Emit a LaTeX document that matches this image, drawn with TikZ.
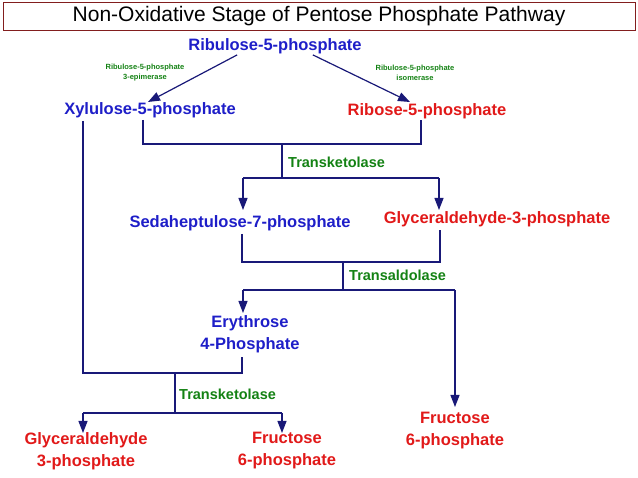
\documentclass[tikz,border=0pt]{standalone}
\usepackage{fontspec}
\setmainfont{Liberation Sans}
\usetikzlibrary{arrows.meta}
\definecolor{cblue}{RGB}{30,30,200}
\definecolor{cred}{RGB}{225,25,25}
\definecolor{cgreen}{RGB}{20,130,20}
\definecolor{cline}{RGB}{25,25,120}
\definecolor{cbox}{RGB}{130,30,30}
\tikzset{
  mb/.style={text=cblue,font=\bfseries\fontsize{16.5}{22}\selectfont,align=center,inner sep=1pt},
  mr/.style={text=cred,font=\bfseries\fontsize{16.5}{22}\selectfont,align=center,inner sep=1pt},
  enz/.style={text=cgreen,font=\bfseries\fontsize{14.5}{16}\selectfont,inner sep=1pt,anchor=west},
  enzs/.style={text=cgreen,font=\bfseries\fontsize{7.5}{10}\selectfont,align=center,inner sep=0pt},
  ln/.style={draw=cline,line width=1.2pt},
  ar/.style={ln,-{Triangle[length=12pt,width=9pt]}}
}
\begin{document}
\begin{tikzpicture}[x=1pt,y=-1pt]
\useasboundingbox (0,0) rectangle (638,478);
\node[draw=cbox,line width=0.9pt,minimum width=632pt,minimum height=28pt,font=\fontsize{21}{24}\selectfont] (title) at (319,16.5) {Non-Oxidative Stage of Pentose Phosphate Pathway};
\node[mb] (ru) at (275,46) {Ribulose-5-phosphate};
\node[mb] (xy) at (150,110) {Xylulose-5-phosphate};
\node[mr] (ri) at (427,111) {Ribose-5-phosphate};
\node[enzs] (e1) at (145,73) {Ribulose-5-phosphate\\3-epimerase};
\node[enzs] (e2) at (415,73) {Ribulose-5-phosphate\\isomerase};
\node[mb] (se) at (240,223) {Sedaheptulose-7-phosphate};
\node[mr] (gl) at (497,219) {Glyceraldehyde-3-phosphate};
\node[mb] (er) at (250,334) {Erythrose\\4-Phosphate};
\node[mr] (g2) at (86,451) {Glyceraldehyde\\3-phosphate};
\node[mr] (f1) at (287,451) {Fructose\\6-phosphate};
\node[mr] (f2) at (455,431) {Fructose\\6-phosphate};
\node[enz] (t1) at (287,162) {Transketolase};
\node[enz] (t2) at (348,275) {Transaldolase};
\node[enz] (t3) at (178,394) {Transketolase};

\coordinate (a1) at (143,144); \coordinate (a2) at (421,144);
\coordinate (s1) at (282,144); \coordinate (s1b) at (282,178);
\coordinate (b1) at (243,178); \coordinate (b2) at (439,178);
\coordinate (c1) at (242,262); \coordinate (c2) at (440,262);
\coordinate (s2) at (343,262); \coordinate (s2b) at (343,290);
\coordinate (d1) at (243,290); \coordinate (d2) at (455,290);
\coordinate (l1) at (83,373); \coordinate (l2) at (242,373);
\coordinate (s3) at (175,373); \coordinate (s3b) at (175,413);
\coordinate (m1) at (83,413); \coordinate (m2) at (282,413);

\draw[ar] (ru.south west)++(50,0) -- (148,102);
\draw[ar] (ru.south east)++(-50,0) -- (410,102);
\draw[ln] (143,120) -- (a1) -- (a2) -- (421,120);
\draw[ln] (s1) -- (s1b);
\draw[ln] (b1) -- (b2);
\draw[ar] (b1) -- (243,210);
\draw[ar] (b2) -- (439,210);
\draw[ln] (242,234) -- (c1) -- (c2) -- (440,230);
\draw[ln] (s2) -- (s2b);
\draw[ln] (d1) -- (d2);
\draw[ar] (d1) -- (243,313);
\draw[ar] (d2) -- (455,407);
\draw[ln] (83,121) -- (l1) -- (l2) -- (242,357);
\draw[ln] (s3) -- (s3b);
\draw[ln] (m1) -- (m2);
\draw[ar] (m1) -- (83,433);
\draw[ar] (m2) -- (282,433);
\end{tikzpicture}
\end{document}
